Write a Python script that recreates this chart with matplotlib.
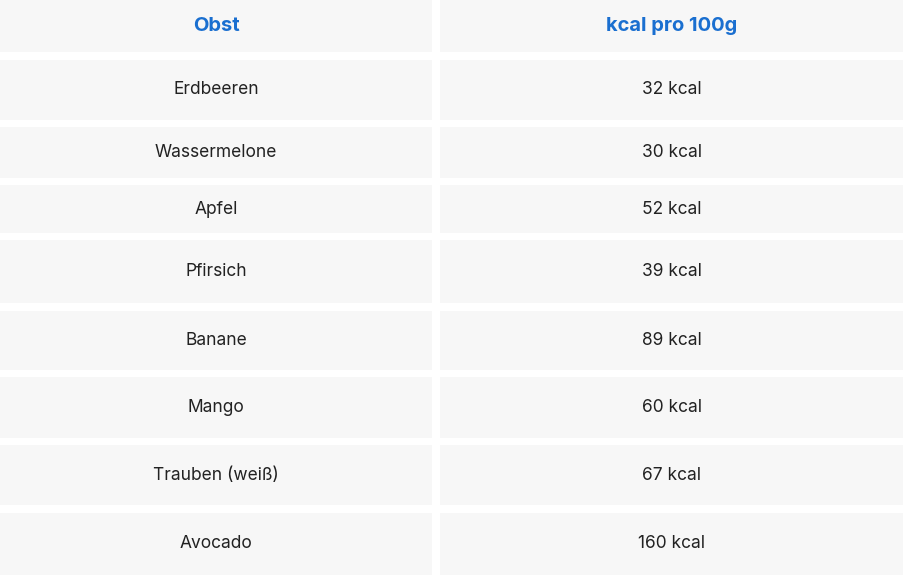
import matplotlib
matplotlib.use("Agg")
import matplotlib.pyplot as plt
from matplotlib.patches import Rectangle

headers = ["Obst", "kcal pro 100g"]
fruits = ["Erdbeeren", "Wassermelone", "Apfel", "Pfirsich", "Banane", "Mango", "Trauben (weiß)", "Avocado"]
kcal = [32, 30, 52, 39, 89, 60, 67, 160]

W, H = 904, 575
fig = plt.figure(figsize=(W/100, H/100), dpi=100)
ax = fig.add_axes([0, 0, 1, 1])
ax.set_xlim(0, W); ax.set_ylim(H, 0); ax.axis("off")

# row bounds (top, bottom) in pixels
rows = [(0, 52), (60, 120), (127, 178), (185, 233), (240, 303), (311, 370), (377, 438), (445, 505), (513, 575)]
cols = [(0, 432), (440, 904)]
cell = "#f7f7f7"

texts = [headers] + [[f, f"{k} kcal"] for f, k in zip(fruits, kcal)]
for r, (t, b) in enumerate(rows):
    for c, (l, rr) in enumerate(cols):
        ax.add_patch(Rectangle((l, t), rr-l, b-t, color=cell, lw=0))
        if r == 0:
            ax.text((l+rr)/2, (t+b)/2, texts[r][c], ha="center", va="center",
                    fontsize=14.5, fontweight="bold", color="#1a6fd0", family="Inter")
        else:
            ax.text((l+rr)/2, (t+b)/2, texts[r][c], ha="center", va="center",
                    fontsize=12.5, color="#222222", family="Inter")

fig.savefig("out.png", dpi=100, facecolor="white")
